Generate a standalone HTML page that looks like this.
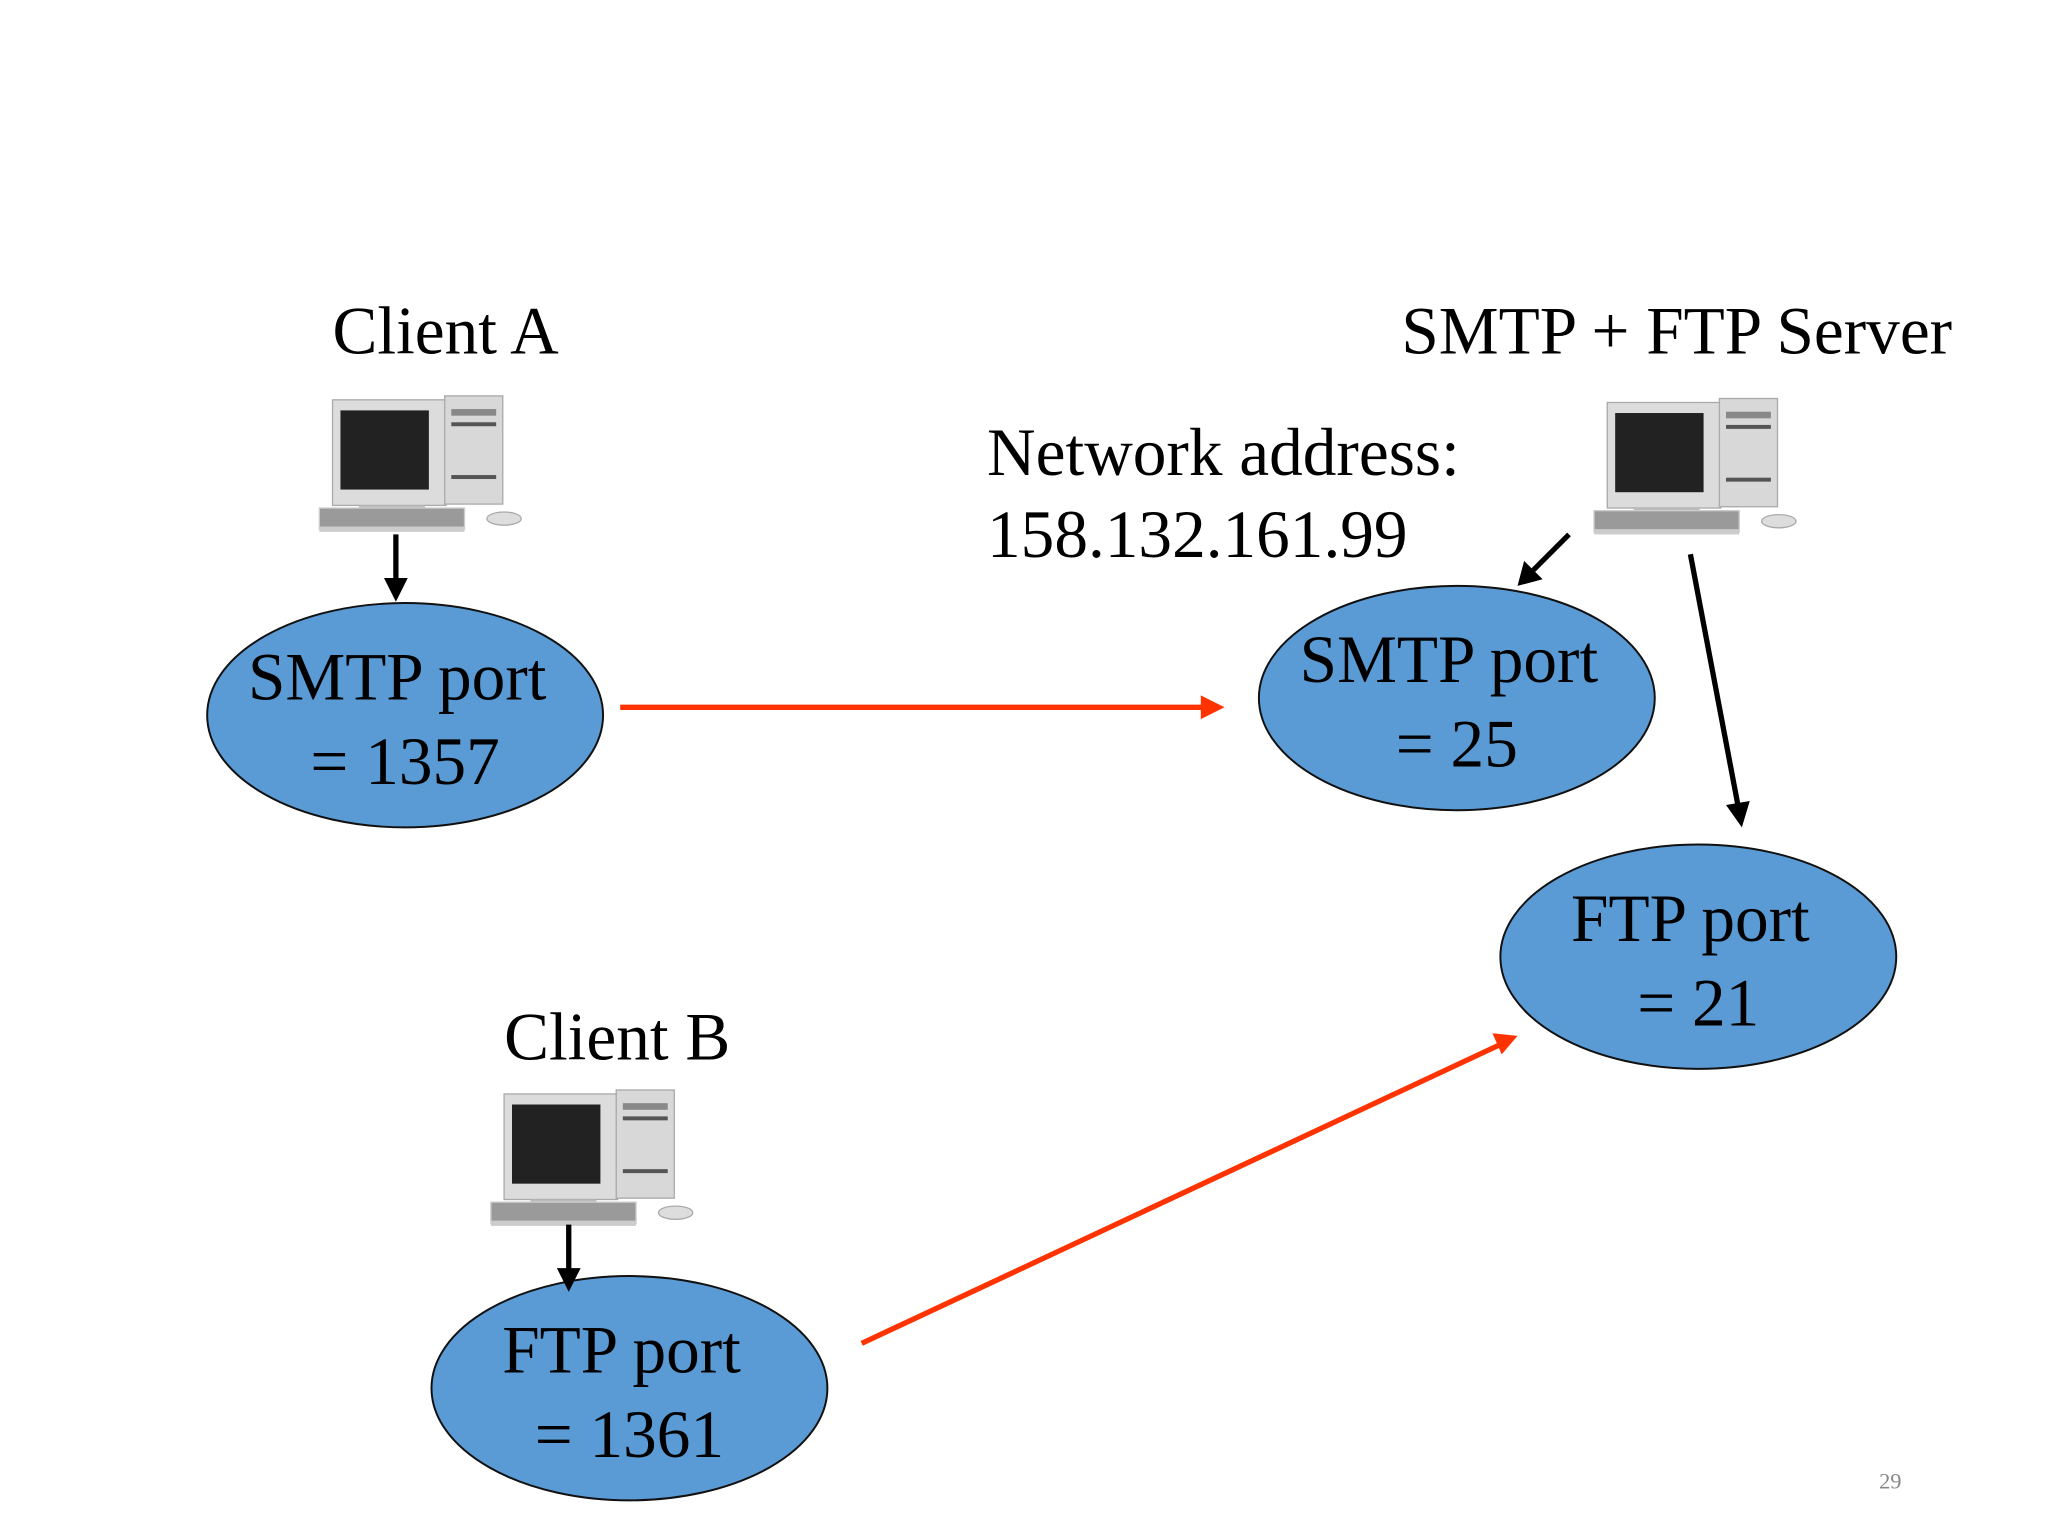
<!DOCTYPE html>
<html><head><meta charset="utf-8"><style>html,body{margin:0;padding:0;background:#fff}svg{display:block}</style></head>
<body>
<svg width="2048" height="1536" viewBox="0 0 1552 1164" preserveAspectRatio="none" xmlns="http://www.w3.org/2000/svg">
<defs>
<g id="pc">
  <rect x="10" y="5" width="86" height="80" fill="#dcdcdc" stroke="#aaa"/>
  <rect x="16" y="13" width="67" height="60" fill="#222"/>
  <rect x="30" y="85" width="50" height="6" fill="#bbb"/>
  <rect x="95" y="2" width="44" height="82" fill="#d8d8d8" stroke="#aaa"/>
  <rect x="100" y="12" width="34" height="5" fill="#888"/>
  <rect x="100" y="22" width="34" height="3" fill="#555"/>
  <rect x="100" y="62" width="34" height="3" fill="#555"/>
  <rect x="0" y="87" width="110" height="16" fill="#9a9a9a" stroke="#ccc"/>
  <rect x="0" y="101" width="110" height="4" fill="#ccc"/>
  <ellipse cx="140" cy="95" rx="13" ry="5" fill="#ddd" stroke="#aaa"/>
</g>
</defs>
<use href="#pc" x="242" y="298"/>
<use href="#pc" x="1208" y="300"/>
<use href="#pc" x="372" y="824"/>
<g font-family="Liberation Serif, serif" font-size="51" fill="#000">
  <text x="252" y="268">Client A</text>
  <text x="1062" y="268">SMTP + FTP Server</text>
  <text x="748" y="360">Network address:</text>
  <text x="748" y="422">158.132.161.99</text>
  <text x="382" y="803">Client B</text>
</g>
<text x="1424" y="1128" font-family="Liberation Serif, serif" font-size="17" fill="#888">29</text>
<g fill="#5b9bd5" stroke="#111" stroke-width="1.5">
  <ellipse cx="307" cy="542" rx="150" ry="85"/>
  <ellipse cx="1104" cy="529" rx="150" ry="85"/>
  <ellipse cx="1287" cy="725" rx="150" ry="85"/>
  <ellipse cx="477" cy="1052" rx="150" ry="85"/>
</g>
<g font-family="Liberation Serif, serif" font-size="51" fill="#000" text-anchor="middle">
  <text x="301" y="530">SMTP port</text><text x="307" y="594">= 1357</text>
  <text x="1098" y="517">SMTP port</text><text x="1104" y="581">= 25</text>
  <text x="1281" y="713">FTP port</text><text x="1287" y="777">= 21</text>
  <text x="471" y="1040">FTP port</text><text x="477" y="1104">= 1361</text>
</g>
<g stroke="#000" stroke-width="4">
  <line x1="300" y1="405" x2="300" y2="440"/>
  <line x1="1189" y1="405" x2="1162" y2="432"/>
  <line x1="1281" y1="420" x2="1317" y2="610"/>
  <line x1="431" y1="928" x2="431" y2="963"/>
</g>
<g fill="#000">
  <polygon points="291,438 309,438 300,456"/>
  <polygon points="1155,425 1169,439 1150,444"/>
  <polygon points="1308,610 1326,607 1320,627"/>
  <polygon points="422,961 440,961 431,979"/>
</g>
<g stroke="#ff3300" stroke-width="4">
  <line x1="470" y1="536" x2="912" y2="536"/>
  <line x1="653" y1="1018" x2="1136" y2="792"/>
</g>
<g fill="#ff3300">
  <polygon points="910,527 928,536 910,545"/>
  <polygon points="1131,783 1150,785 1138,799"/>
</g>
</svg>
</body></html>
